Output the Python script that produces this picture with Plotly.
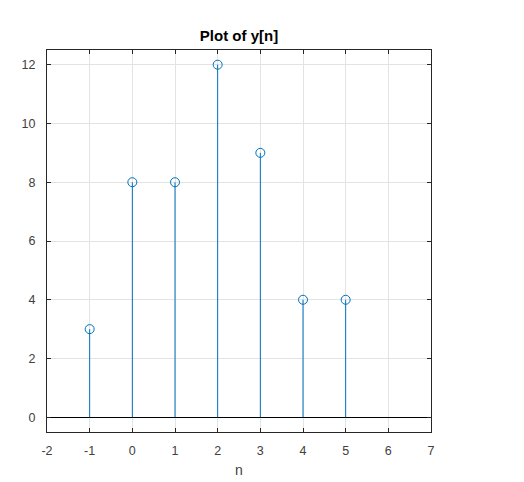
import plotly.graph_objects as go

n = [-1, 0, 1, 2, 3, 4, 5]
y = [3, 8, 8, 12, 9, 4, 4]
x_ticks = [-2, -1, 0, 1, 2, 3, 4, 5, 6, 7]
x_tick_labels = ["-2", "-1", "0", "1", "2", "3", "4", "5", "6", "7"]
y_ticks = [0, 2, 4, 6, 8, 10, 12]
y_tick_labels = ["0", "2", "4", "6", "8", "10", "12"]

stem_color = "#0072BD"
text_color = "#404040"
font_family = "Liberation Sans, Arial, sans-serif"

fig = go.Figure()
fig.add_trace(go.Scatter(
    x=n, y=y, mode="markers",
    marker=dict(symbol="circle-open", size=9, color=stem_color, line=dict(width=1, color=stem_color)),
    error_y=dict(type="data", symmetric=False, array=[0] * len(y), arrayminus=y,
                 color=stem_color, thickness=1, width=0),
    showlegend=False,
))

axis_common = dict(
    showgrid=True, gridcolor="#e3e3e3", gridwidth=1,
    showline=True, linecolor="#262626", linewidth=1, mirror="ticks",
    ticks="inside", ticklen=4, tickcolor="#262626",
    tickfont=dict(family=font_family, size=12.5, color=text_color),
)

fig.update_xaxes(range=[-2, 7], tickvals=x_ticks, ticktext=x_tick_labels, zeroline=False,
                 ticklabelstandoff=7,
                 title=dict(text="n", font=dict(family=font_family, size=14, color=text_color), standoff=8),
                 **axis_common)
fig.update_yaxes(range=[-0.5, 12.5], tickvals=y_ticks, ticktext=y_tick_labels,
                 zeroline=True, zerolinecolor="#000000", zerolinewidth=1,
                 ticklabelstandoff=8,
                 **axis_common)

fig.update_layout(
    width=524, height=482,
    margin=dict(l=39, r=101, t=42, b=58, autoexpand=False),
    paper_bgcolor="white", plot_bgcolor="white",
    title=dict(text="<b>Plot of y[n]</b>", x=(231 / 524), xanchor="center",
               y=1 - 27.5 / 482, yanchor="middle",
               font=dict(family=font_family, size=15, color="#000000")),
)

fig.write_html("out.html")
